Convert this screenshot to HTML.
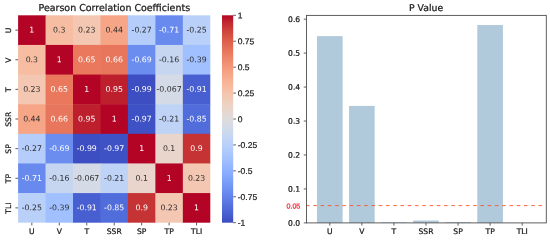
<!DOCTYPE html>
<html lang="en"><head><meta charset="utf-8"><title>Pearson Correlation Coefficients / P Value</title>
<style>html,body{margin:0;padding:0;background:#fff}body{width:550px;height:241px;overflow:hidden}svg{display:block}</style>
</head><body>
<svg width="550" height="241" viewBox="0 0 550 241" font-family="'DejaVu Sans', 'Liberation Sans', sans-serif">
<rect width="550" height="241" fill="#fff"/>
<defs><linearGradient id="cw" x1="0" y1="0" x2="0" y2="1"><stop offset="0.0000" stop-color="#b40426"/><stop offset="0.0312" stop-color="#be242e"/><stop offset="0.0625" stop-color="#ca3b37"/><stop offset="0.0938" stop-color="#d44e41"/><stop offset="0.1250" stop-color="#dd5f4b"/><stop offset="0.1562" stop-color="#e46e56"/><stop offset="0.1875" stop-color="#eb7d62"/><stop offset="0.2188" stop-color="#f08b6e"/><stop offset="0.2500" stop-color="#f4987a"/><stop offset="0.2812" stop-color="#f6a586"/><stop offset="0.3125" stop-color="#f7b093"/><stop offset="0.3438" stop-color="#f7ba9f"/><stop offset="0.3750" stop-color="#f5c4ac"/><stop offset="0.4062" stop-color="#f1ccb8"/><stop offset="0.4375" stop-color="#ecd3c5"/><stop offset="0.4688" stop-color="#e5d8d1"/><stop offset="0.5000" stop-color="#dddcdc"/><stop offset="0.5312" stop-color="#d5dbe5"/><stop offset="0.5625" stop-color="#ccd9ed"/><stop offset="0.5938" stop-color="#c3d5f4"/><stop offset="0.6250" stop-color="#b9d0f9"/><stop offset="0.6562" stop-color="#aec9fc"/><stop offset="0.6875" stop-color="#a3c2fe"/><stop offset="0.7188" stop-color="#98b9ff"/><stop offset="0.7500" stop-color="#8db0fe"/><stop offset="0.7812" stop-color="#82a6fb"/><stop offset="0.8125" stop-color="#779af7"/><stop offset="0.8438" stop-color="#6c8ff1"/><stop offset="0.8750" stop-color="#6282ea"/><stop offset="0.9062" stop-color="#5875e1"/><stop offset="0.9375" stop-color="#4e68d8"/><stop offset="0.9688" stop-color="#445acc"/><stop offset="1.0000" stop-color="#3b4cc0"/></linearGradient></defs>
<g>
<rect x="18.10" y="15.30" width="27.96" height="30.13" fill="#b40426"/>
<rect x="45.56" y="15.30" width="27.96" height="30.13" fill="#f6bda2"/>
<rect x="73.01" y="15.30" width="27.96" height="30.13" fill="#f3c7b1"/>
<rect x="100.47" y="15.30" width="27.96" height="30.13" fill="#f6a586"/>
<rect x="127.93" y="15.30" width="27.96" height="30.13" fill="#b5cdfa"/>
<rect x="155.39" y="15.30" width="27.96" height="30.13" fill="#688aef"/>
<rect x="182.84" y="15.30" width="27.46" height="30.13" fill="#b9d0f9"/>
<rect x="18.10" y="44.93" width="27.96" height="30.13" fill="#f6bda2"/>
<rect x="45.56" y="44.93" width="27.96" height="30.13" fill="#b40426"/>
<rect x="73.01" y="44.93" width="27.96" height="30.13" fill="#e9785d"/>
<rect x="100.47" y="44.93" width="27.96" height="30.13" fill="#e8765c"/>
<rect x="127.93" y="44.93" width="27.96" height="30.13" fill="#6b8df0"/>
<rect x="155.39" y="44.93" width="27.96" height="30.13" fill="#c6d6f1"/>
<rect x="182.84" y="44.93" width="27.46" height="30.13" fill="#a1c0ff"/>
<rect x="18.10" y="74.56" width="27.96" height="30.13" fill="#f3c7b1"/>
<rect x="45.56" y="74.56" width="27.96" height="30.13" fill="#e9785d"/>
<rect x="73.01" y="74.56" width="27.96" height="30.13" fill="#b40426"/>
<rect x="100.47" y="74.56" width="27.96" height="30.13" fill="#bd1f2d"/>
<rect x="127.93" y="74.56" width="27.96" height="30.13" fill="#3c4ec2"/>
<rect x="155.39" y="74.56" width="27.96" height="30.13" fill="#d4dbe6"/>
<rect x="182.84" y="74.56" width="27.46" height="30.13" fill="#485fd1"/>
<rect x="18.10" y="104.19" width="27.96" height="30.13" fill="#f6a586"/>
<rect x="45.56" y="104.19" width="27.96" height="30.13" fill="#e8765c"/>
<rect x="73.01" y="104.19" width="27.96" height="30.13" fill="#bd1f2d"/>
<rect x="100.47" y="104.19" width="27.96" height="30.13" fill="#b40426"/>
<rect x="127.93" y="104.19" width="27.96" height="30.13" fill="#3e51c5"/>
<rect x="155.39" y="104.19" width="27.96" height="30.13" fill="#bfd3f6"/>
<rect x="182.84" y="104.19" width="27.46" height="30.13" fill="#516ddb"/>
<rect x="18.10" y="133.81" width="27.96" height="30.13" fill="#b5cdfa"/>
<rect x="45.56" y="133.81" width="27.96" height="30.13" fill="#6b8df0"/>
<rect x="73.01" y="133.81" width="27.96" height="30.13" fill="#3c4ec2"/>
<rect x="100.47" y="133.81" width="27.96" height="30.13" fill="#3e51c5"/>
<rect x="127.93" y="133.81" width="27.96" height="30.13" fill="#b40426"/>
<rect x="155.39" y="133.81" width="27.96" height="30.13" fill="#e9d5cb"/>
<rect x="182.84" y="133.81" width="27.46" height="30.13" fill="#c53334"/>
<rect x="18.10" y="163.44" width="27.96" height="30.13" fill="#688aef"/>
<rect x="45.56" y="163.44" width="27.96" height="30.13" fill="#c6d6f1"/>
<rect x="73.01" y="163.44" width="27.96" height="30.13" fill="#d4dbe6"/>
<rect x="100.47" y="163.44" width="27.96" height="30.13" fill="#bfd3f6"/>
<rect x="127.93" y="163.44" width="27.96" height="30.13" fill="#e9d5cb"/>
<rect x="155.39" y="163.44" width="27.96" height="30.13" fill="#b40426"/>
<rect x="182.84" y="163.44" width="27.46" height="30.13" fill="#f3c7b1"/>
<rect x="18.10" y="193.07" width="27.96" height="29.63" fill="#b9d0f9"/>
<rect x="45.56" y="193.07" width="27.96" height="29.63" fill="#a1c0ff"/>
<rect x="73.01" y="193.07" width="27.96" height="29.63" fill="#485fd1"/>
<rect x="100.47" y="193.07" width="27.96" height="29.63" fill="#516ddb"/>
<rect x="127.93" y="193.07" width="27.96" height="29.63" fill="#c53334"/>
<rect x="155.39" y="193.07" width="27.96" height="29.63" fill="#f3c7b1"/>
<rect x="182.84" y="193.07" width="27.46" height="29.63" fill="#b40426"/>
</g>
<g font-size="7.80" text-anchor="middle" stroke-width="0.00">
<text transform="translate(31.83 32.51) rotate(0.03)" fill="#ffffff" stroke="#ffffff">1</text>
<text transform="translate(59.29 32.51) rotate(0.03)" fill="#2c2c2c" stroke="#2c2c2c">0.3</text>
<text transform="translate(86.74 32.51) rotate(0.03)" fill="#2c2c2c" stroke="#2c2c2c">0.23</text>
<text transform="translate(114.20 32.51) rotate(0.03)" fill="#2c2c2c" stroke="#2c2c2c">0.44</text>
<text transform="translate(141.66 32.51) rotate(0.03)" fill="#2c2c2c" stroke="#2c2c2c">-0.27</text>
<text transform="translate(169.11 32.51) rotate(0.03)" fill="#ffffff" stroke="#ffffff">-0.71</text>
<text transform="translate(196.57 32.51) rotate(0.03)" fill="#2c2c2c" stroke="#2c2c2c">-0.25</text>
<text transform="translate(31.83 62.14) rotate(0.03)" fill="#2c2c2c" stroke="#2c2c2c">0.3</text>
<text transform="translate(59.29 62.14) rotate(0.03)" fill="#ffffff" stroke="#ffffff">1</text>
<text transform="translate(86.74 62.14) rotate(0.03)" fill="#ffffff" stroke="#ffffff">0.65</text>
<text transform="translate(114.20 62.14) rotate(0.03)" fill="#ffffff" stroke="#ffffff">0.66</text>
<text transform="translate(141.66 62.14) rotate(0.03)" fill="#ffffff" stroke="#ffffff">-0.69</text>
<text transform="translate(169.11 62.14) rotate(0.03)" fill="#2c2c2c" stroke="#2c2c2c">-0.16</text>
<text transform="translate(196.57 62.14) rotate(0.03)" fill="#2c2c2c" stroke="#2c2c2c">-0.39</text>
<text transform="translate(31.83 91.76) rotate(0.03)" fill="#2c2c2c" stroke="#2c2c2c">0.23</text>
<text transform="translate(59.29 91.76) rotate(0.03)" fill="#ffffff" stroke="#ffffff">0.65</text>
<text transform="translate(86.74 91.76) rotate(0.03)" fill="#ffffff" stroke="#ffffff">1</text>
<text transform="translate(114.20 91.76) rotate(0.03)" fill="#ffffff" stroke="#ffffff">0.95</text>
<text transform="translate(141.66 91.76) rotate(0.03)" fill="#ffffff" stroke="#ffffff">-0.99</text>
<text transform="translate(169.11 91.76) rotate(0.03)" fill="#2c2c2c" stroke="#2c2c2c">-0.067</text>
<text transform="translate(196.57 91.76) rotate(0.03)" fill="#ffffff" stroke="#ffffff">-0.91</text>
<text transform="translate(31.83 121.39) rotate(0.03)" fill="#2c2c2c" stroke="#2c2c2c">0.44</text>
<text transform="translate(59.29 121.39) rotate(0.03)" fill="#ffffff" stroke="#ffffff">0.66</text>
<text transform="translate(86.74 121.39) rotate(0.03)" fill="#ffffff" stroke="#ffffff">0.95</text>
<text transform="translate(114.20 121.39) rotate(0.03)" fill="#ffffff" stroke="#ffffff">1</text>
<text transform="translate(141.66 121.39) rotate(0.03)" fill="#ffffff" stroke="#ffffff">-0.97</text>
<text transform="translate(169.11 121.39) rotate(0.03)" fill="#2c2c2c" stroke="#2c2c2c">-0.21</text>
<text transform="translate(196.57 121.39) rotate(0.03)" fill="#ffffff" stroke="#ffffff">-0.85</text>
<text transform="translate(31.83 151.02) rotate(0.03)" fill="#2c2c2c" stroke="#2c2c2c">-0.27</text>
<text transform="translate(59.29 151.02) rotate(0.03)" fill="#ffffff" stroke="#ffffff">-0.69</text>
<text transform="translate(86.74 151.02) rotate(0.03)" fill="#ffffff" stroke="#ffffff">-0.99</text>
<text transform="translate(114.20 151.02) rotate(0.03)" fill="#ffffff" stroke="#ffffff">-0.97</text>
<text transform="translate(141.66 151.02) rotate(0.03)" fill="#ffffff" stroke="#ffffff">1</text>
<text transform="translate(169.11 151.02) rotate(0.03)" fill="#2c2c2c" stroke="#2c2c2c">0.1</text>
<text transform="translate(196.57 151.02) rotate(0.03)" fill="#ffffff" stroke="#ffffff">0.9</text>
<text transform="translate(31.83 180.65) rotate(0.03)" fill="#ffffff" stroke="#ffffff">-0.71</text>
<text transform="translate(59.29 180.65) rotate(0.03)" fill="#2c2c2c" stroke="#2c2c2c">-0.16</text>
<text transform="translate(86.74 180.65) rotate(0.03)" fill="#2c2c2c" stroke="#2c2c2c">-0.067</text>
<text transform="translate(114.20 180.65) rotate(0.03)" fill="#2c2c2c" stroke="#2c2c2c">-0.21</text>
<text transform="translate(141.66 180.65) rotate(0.03)" fill="#2c2c2c" stroke="#2c2c2c">0.1</text>
<text transform="translate(169.11 180.65) rotate(0.03)" fill="#ffffff" stroke="#ffffff">1</text>
<text transform="translate(196.57 180.65) rotate(0.03)" fill="#2c2c2c" stroke="#2c2c2c">0.23</text>
<text transform="translate(31.83 210.28) rotate(0.03)" fill="#2c2c2c" stroke="#2c2c2c">-0.25</text>
<text transform="translate(59.29 210.28) rotate(0.03)" fill="#2c2c2c" stroke="#2c2c2c">-0.39</text>
<text transform="translate(86.74 210.28) rotate(0.03)" fill="#ffffff" stroke="#ffffff">-0.91</text>
<text transform="translate(114.20 210.28) rotate(0.03)" fill="#ffffff" stroke="#ffffff">-0.85</text>
<text transform="translate(141.66 210.28) rotate(0.03)" fill="#ffffff" stroke="#ffffff">0.9</text>
<text transform="translate(169.11 210.28) rotate(0.03)" fill="#2c2c2c" stroke="#2c2c2c">0.23</text>
<text transform="translate(196.57 210.28) rotate(0.03)" fill="#ffffff" stroke="#ffffff">1</text>
</g>
<g stroke="#333333" stroke-width="0.80">
<line x1="31.83" y1="222.70" x2="31.83" y2="225.40"/>
<line x1="15.40" y1="30.11" x2="18.10" y2="30.11"/>
<line x1="59.29" y1="222.70" x2="59.29" y2="225.40"/>
<line x1="15.40" y1="59.74" x2="18.10" y2="59.74"/>
<line x1="86.74" y1="222.70" x2="86.74" y2="225.40"/>
<line x1="15.40" y1="89.37" x2="18.10" y2="89.37"/>
<line x1="114.20" y1="222.70" x2="114.20" y2="225.40"/>
<line x1="15.40" y1="119.00" x2="18.10" y2="119.00"/>
<line x1="141.66" y1="222.70" x2="141.66" y2="225.40"/>
<line x1="15.40" y1="148.63" x2="18.10" y2="148.63"/>
<line x1="169.11" y1="222.70" x2="169.11" y2="225.40"/>
<line x1="15.40" y1="178.26" x2="18.10" y2="178.26"/>
<line x1="196.57" y1="222.70" x2="196.57" y2="225.40"/>
<line x1="15.40" y1="207.89" x2="18.10" y2="207.89"/>
<line x1="233.20" y1="15.30" x2="235.90" y2="15.30"/>
<line x1="233.20" y1="41.22" x2="235.90" y2="41.22"/>
<line x1="233.20" y1="67.15" x2="235.90" y2="67.15"/>
<line x1="233.20" y1="93.07" x2="235.90" y2="93.07"/>
<line x1="233.20" y1="119.00" x2="235.90" y2="119.00"/>
<line x1="233.20" y1="144.93" x2="235.90" y2="144.93"/>
<line x1="233.20" y1="170.85" x2="235.90" y2="170.85"/>
<line x1="233.20" y1="196.77" x2="235.90" y2="196.77"/>
<line x1="233.20" y1="222.70" x2="235.90" y2="222.70"/>
</g>
<g font-size="7.60" fill="#171717" stroke="#171717" stroke-width="0.24">
<text transform="translate(31.83 234.00) rotate(0.03)" text-anchor="middle">U</text>
<text transform="translate(11.30 30.41) rotate(-90)" text-anchor="middle">U</text>
<text transform="translate(59.29 234.00) rotate(0.03)" text-anchor="middle">V</text>
<text transform="translate(11.30 60.04) rotate(-90)" text-anchor="middle">V</text>
<text transform="translate(86.74 234.00) rotate(0.03)" text-anchor="middle">T</text>
<text transform="translate(11.30 89.67) rotate(-90)" text-anchor="middle">T</text>
<text transform="translate(114.20 234.00) rotate(0.03)" text-anchor="middle">SSR</text>
<text transform="translate(11.30 119.30) rotate(-90)" text-anchor="middle">SSR</text>
<text transform="translate(141.66 234.00) rotate(0.03)" text-anchor="middle">SP</text>
<text transform="translate(11.30 148.93) rotate(-90)" text-anchor="middle">SP</text>
<text transform="translate(169.11 234.00) rotate(0.03)" text-anchor="middle">TP</text>
<text transform="translate(11.30 178.56) rotate(-90)" text-anchor="middle">TP</text>
<text transform="translate(196.57 234.00) rotate(0.03)" text-anchor="middle">TLI</text>
<text transform="translate(11.30 208.19) rotate(-90)" text-anchor="middle">TLI</text>
</g>
<g font-family="'Liberation Sans', sans-serif" font-size="8.50" fill="#171717" stroke="#171717" stroke-width="0.20">
<text transform="translate(237.75 18.44) rotate(0.03)">1</text>
<text transform="translate(237.75 44.37) rotate(0.03)">0.75</text>
<text transform="translate(237.75 70.29) rotate(0.03)">0.5</text>
<text transform="translate(237.75 96.22) rotate(0.03)">0.25</text>
<text transform="translate(237.75 122.14) rotate(0.03)">0</text>
<text transform="translate(237.75 148.07) rotate(0.03)">-0.25</text>
<text transform="translate(237.75 173.99) rotate(0.03)">-0.5</text>
<text transform="translate(237.75 199.92) rotate(0.03)">-0.75</text>
<text transform="translate(237.75 225.84) rotate(0.03)">-1</text>
</g>
<rect x="222.00" y="15.30" width="11.20" height="207.40" fill="url(#cw)"/>
<g font-size="9.36" text-anchor="middle" fill="#171717" stroke="#171717" stroke-width="0.24">
<text transform="translate(114.30 11.00) rotate(0.03)" font-size="9.48">Pearson Correlation Coefficients</text>
<text transform="translate(426.07 11.00) rotate(0.03)" font-size="9.3">P Value</text>
</g>
<g fill="#b1cadb">
<rect x="316.97" y="36.12" width="25.65" height="186.78"/>
<rect x="349.03" y="105.91" width="25.65" height="116.99"/>
<rect x="381.10" y="222.32" width="25.65" height="0.58"/>
<rect x="413.16" y="220.52" width="25.65" height="2.38"/>
<rect x="445.23" y="222.12" width="25.65" height="0.78"/>
<rect x="477.30" y="25.02" width="25.65" height="197.88"/>
</g>
<line x1="306.45" y1="205.60" x2="545.30" y2="205.60" stroke="#ff5426" stroke-width="0.9" stroke-dasharray="3.55 3.715" stroke-dashoffset="0.4"/>
<rect x="306.45" y="15.40" width="239.85" height="207.50" fill="none" stroke="#4d4d4d" stroke-width="0.90"/>
<g stroke="#4d4d4d" stroke-width="0.90">
<line x1="329.79" y1="222.90" x2="329.79" y2="225.60"/>
<line x1="361.86" y1="222.90" x2="361.86" y2="225.60"/>
<line x1="393.92" y1="222.90" x2="393.92" y2="225.60"/>
<line x1="425.99" y1="222.90" x2="425.99" y2="225.60"/>
<line x1="458.06" y1="222.90" x2="458.06" y2="225.60"/>
<line x1="490.12" y1="222.90" x2="490.12" y2="225.60"/>
<line x1="522.19" y1="222.90" x2="522.19" y2="225.60"/>
<line x1="303.75" y1="222.90" x2="306.45" y2="222.90"/>
<line x1="303.75" y1="188.94" x2="306.45" y2="188.94"/>
<line x1="303.75" y1="154.98" x2="306.45" y2="154.98"/>
<line x1="303.75" y1="121.02" x2="306.45" y2="121.02"/>
<line x1="303.75" y1="87.06" x2="306.45" y2="87.06"/>
<line x1="303.75" y1="53.10" x2="306.45" y2="53.10"/>
<line x1="303.75" y1="19.14" x2="306.45" y2="19.14"/>
</g>
<g font-size="7.60" fill="#171717" stroke="#171717" stroke-width="0.24">
<text transform="translate(329.79 234.00) rotate(0.03)" text-anchor="middle">U</text>
<text transform="translate(361.86 234.00) rotate(0.03)" text-anchor="middle">V</text>
<text transform="translate(393.92 234.00) rotate(0.03)" text-anchor="middle">T</text>
<text transform="translate(425.99 234.00) rotate(0.03)" text-anchor="middle">SSR</text>
<text transform="translate(458.06 234.00) rotate(0.03)" text-anchor="middle">SP</text>
<text transform="translate(490.12 234.00) rotate(0.03)" text-anchor="middle">TP</text>
<text transform="translate(522.19 234.00) rotate(0.03)" text-anchor="middle">TLI</text>
<text transform="translate(300.20 225.67) rotate(0.03)" text-anchor="end">0.0</text>
<text transform="translate(300.20 191.71) rotate(0.03)" text-anchor="end">0.1</text>
<text transform="translate(300.20 157.75) rotate(0.03)" text-anchor="end">0.2</text>
<text transform="translate(300.20 123.79) rotate(0.03)" text-anchor="end">0.3</text>
<text transform="translate(300.20 89.83) rotate(0.03)" text-anchor="end">0.4</text>
<text transform="translate(300.20 55.87) rotate(0.03)" text-anchor="end">0.5</text>
<text transform="translate(300.20 21.91) rotate(0.03)" text-anchor="end">0.6</text>
</g>
<text transform="translate(300.30 208.54) rotate(0.03)" font-family="'Liberation Sans', sans-serif" font-size="7.10" text-anchor="end" fill="#ff2a38" stroke="#ff2a38" stroke-width="0.25">0.05</text>
</svg>
</body></html>
